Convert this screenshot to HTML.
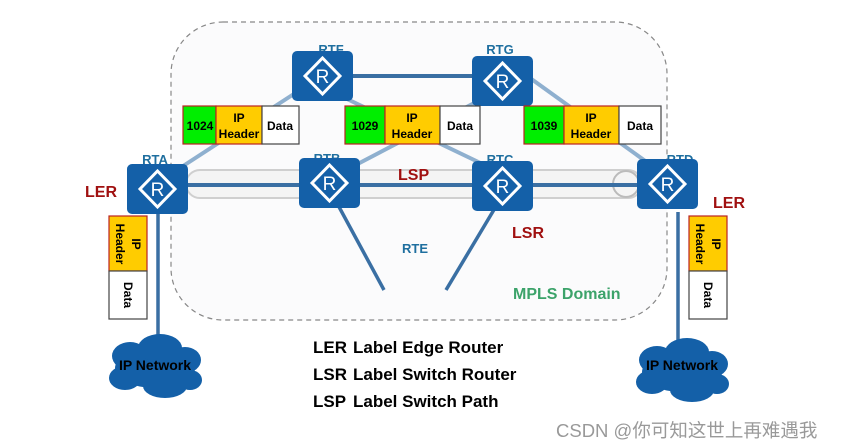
<!DOCTYPE html>
<html><head><meta charset="utf-8"><style>
body{margin:0;background:#fff;width:842px;height:448px;overflow:hidden;position:relative;font-family:"Liberation Sans",sans-serif}
svg{position:absolute;left:0;top:0}
</style></head><body>
<svg width="842" height="448" viewBox="0 0 842 448" xmlns="http://www.w3.org/2000/svg">
<defs>
<g id="r"><rect x="0" y="0" width="61" height="50" rx="5" fill="#1460a8"/>
<polygon points="30.5,7 48,25 30.5,43 13,25" fill="none" stroke="#fff" stroke-width="3"/>
<text x="30.5" y="32" text-anchor="middle" font-size="19" fill="#fff" font-family="Liberation Sans">R</text></g>
<g id="cloud" fill="#1460a8"><ellipse cx="0" cy="0" rx="40" ry="20"/><ellipse cx="-25" cy="-12" rx="18" ry="14"/><ellipse cx="5" cy="-20" rx="22" ry="14"/><ellipse cx="30" cy="-8" rx="16" ry="13"/><ellipse cx="-30" cy="10" rx="16" ry="12"/><ellipse cx="10" cy="18" rx="22" ry="12"/><ellipse cx="35" cy="12" rx="12" ry="10"/></g>
</defs>
<rect x="171" y="22" width="496" height="298" rx="52" fill="#fbfbfc" stroke="#888" stroke-width="1.2" stroke-dasharray="5,4"/>
<g stroke="#8fb0cf" stroke-width="4">
<line x1="180" y1="168" x2="300" y2="90"/>
<line x1="345" y1="98" x2="495" y2="170"/>
<line x1="480" y1="100" x2="350" y2="168"/>
<line x1="530" y1="78" x2="655" y2="168"/>
</g>
<line x1="353" y1="76" x2="472" y2="76" stroke="#3a6fa3" stroke-width="4"/>
<rect x="186" y="170" width="456" height="28" rx="14" fill="#f4f4f4" stroke="#cfcfcf" stroke-width="2"/>
<circle cx="626" cy="184" r="13" fill="none" stroke="#bbb" stroke-width="2"/>
<line x1="186" y1="185" x2="640" y2="185" stroke="#3a6fa3" stroke-width="4"/>
<g stroke="#3a6fa3" stroke-width="3.5">
<line x1="338" y1="205" x2="384" y2="290"/>
<line x1="495" y1="208" x2="446" y2="290"/>
<line x1="158" y1="212" x2="158" y2="340"/>
<line x1="678" y1="212" x2="678" y2="345"/>
</g>
<g font-weight="bold" font-size="13" fill="#1f6f9f" text-anchor="middle">
<text x="331" y="54">RTF</text><text x="500" y="54">RTG</text>
<text x="155" y="164">RTA</text><text x="327" y="163">RTB</text>
<text x="500" y="164">RTC</text><text x="680" y="164">RTD</text>
<text x="415" y="253">RTE</text></g>
<use href="#r" x="292" y="51"/><use href="#r" x="472" y="56"/>
<use href="#r" x="127" y="164"/><use href="#r" x="299" y="158"/>
<use href="#r" x="472" y="161"/><use href="#r" x="637" y="159"/>
<g font-weight="bold" font-size="16" fill="#a01010">
<text x="85" y="197">LER</text><text x="398" y="180">LSP</text>
<text x="512" y="238">LSR</text><text x="713" y="208">LER</text></g>
<text x="513" y="299" font-weight="bold" font-size="16" fill="#3ca36a">MPLS Domain</text>
<g font-weight="bold" font-size="12" text-anchor="middle">
<g transform="translate(183,106)"><rect x="0" y="0" width="33" height="38" fill="#00ee00" stroke="#b22" stroke-width="1.2"/><rect x="33" y="0" width="46" height="38" fill="#ffcc00" stroke="#b22" stroke-width="1.2"/><rect x="79" y="0" width="37" height="38" fill="#fff" stroke="#444" stroke-width="1.2"/><text x="17" y="24">1024</text><text x="56" y="16">IP</text><text x="56" y="32">Header</text><text x="97" y="24">Data</text></g>
<g transform="translate(345,106)"><rect x="0" y="0" width="40" height="38" fill="#00ee00" stroke="#b22" stroke-width="1.2"/><rect x="40" y="0" width="55" height="38" fill="#ffcc00" stroke="#b22" stroke-width="1.2"/><rect x="95" y="0" width="40" height="38" fill="#fff" stroke="#444" stroke-width="1.2"/><text x="20" y="24">1029</text><text x="67" y="16">IP</text><text x="67" y="32">Header</text><text x="115" y="24">Data</text></g>
<g transform="translate(524,106)"><rect x="0" y="0" width="40" height="38" fill="#00ee00" stroke="#b22" stroke-width="1.2"/><rect x="40" y="0" width="55" height="38" fill="#ffcc00" stroke="#b22" stroke-width="1.2"/><rect x="95" y="0" width="42" height="38" fill="#fff" stroke="#444" stroke-width="1.2"/><text x="20" y="24">1039</text><text x="67" y="16">IP</text><text x="67" y="32">Header</text><text x="116" y="24">Data</text></g>
<g transform="translate(109,216)"><rect x="0" y="0" width="38" height="55" fill="#ffcc00" stroke="#b22" stroke-width="1.2"/><rect x="0" y="55" width="38" height="48" fill="#fff" stroke="#444" stroke-width="1.2"/>
<text transform="translate(19,28) rotate(90)" y="-4">IP</text><text transform="translate(19,28) rotate(90)" y="12">Header</text><text transform="translate(19,79) rotate(90)" y="4">Data</text></g>
<g transform="translate(689,216)"><rect x="0" y="0" width="38" height="55" fill="#ffcc00" stroke="#b22" stroke-width="1.2"/><rect x="0" y="55" width="38" height="48" fill="#fff" stroke="#444" stroke-width="1.2"/>
<text transform="translate(19,28) rotate(90)" y="-4">IP</text><text transform="translate(19,28) rotate(90)" y="12">Header</text><text transform="translate(19,79) rotate(90)" y="4">Data</text></g>
</g>
<use href="#cloud" x="155" y="368"/><use href="#cloud" x="682" y="372"/>
<g font-weight="bold" font-size="14" fill="#000" text-anchor="middle">
<text x="155" y="370">IP Network</text><text x="682" y="370">IP Network</text></g>
<g font-size="17" fill="#000" font-weight="bold">
<text x="313" y="353">LER</text><text x="353" y="353">Label Edge Router</text>
<text x="313" y="380">LSR</text><text x="353" y="380">Label Switch Router</text>
<text x="313" y="407">LSP</text><text x="353" y="407">Label Switch Path</text></g>
<text x="556" y="437" font-size="18.5" fill="#999" font-family="Liberation Sans,'Noto Sans CJK SC',sans-serif">CSDN @你可知这世上再难遇我</text>
</svg>
</body></html>
